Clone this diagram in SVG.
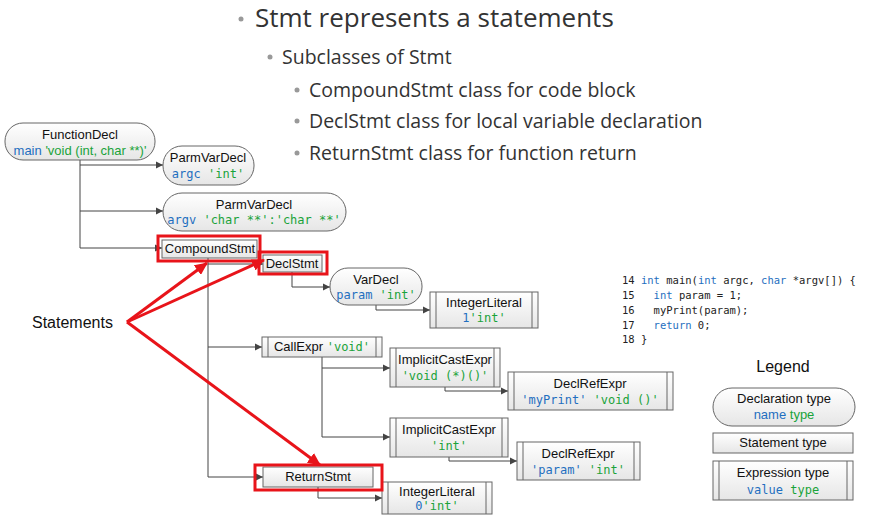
<svg xmlns="http://www.w3.org/2000/svg" width="875" height="524" viewBox="0 0 875 524">
<style>
text{font-family:"Liberation Sans",Arial,sans-serif;fill:#111}
.t{font-size:13px;text-anchor:middle}
.m{font-family:"DejaVu Sans Mono","Liberation Mono",monospace;font-size:12px}
.b{fill:#1f6fc0}.g{fill:#1aa33a}
.n{fill:url(#gr);stroke:#666;stroke-width:1}
.bar{stroke:#666;stroke-width:1}
.c{fill:none;stroke:#444;stroke-width:1;marker-end:url(#a)}
.r{fill:none;stroke:#e8141a;stroke-width:3}
.h{font-family:"Open Sans","Liberation Sans",sans-serif;font-size:19.5px;fill:#333}
.dot{fill:#999}
.code{font-family:"DejaVu Sans Mono","Liberation Mono",monospace;font-size:10.5px;fill:#222;white-space:pre}
</style>
<defs>
<linearGradient id="gr" x1="0" y1="0" x2="0" y2="1"><stop offset="0" stop-color="#fff"/><stop offset="1" stop-color="#e6e6e6"/></linearGradient>
<marker id="a" markerWidth="8" markerHeight="8" refX="7" refY="4" orient="auto" markerUnits="userSpaceOnUse"><path d="M0,0.5 L7,4 L0,7.5z" fill="#444"/></marker>
<marker id="ra" markerWidth="14" markerHeight="12" refX="12" refY="6" orient="auto" markerUnits="userSpaceOnUse"><path d="M0,0 L13,6 L0,12z" fill="#e8141a"/></marker>
</defs>
<g id="title">
<circle class="dot" cx="241" cy="19" r="2.5"/><text x="255" y="27" class="h" style="font-size:26px">Stmt represents a statements</text>
<circle class="dot" cx="270" cy="57" r="2.5"/><text x="282" y="64" class="h">Subclasses of Stmt</text>
<circle class="dot" cx="297" cy="90" r="2.5"/><text x="309" y="97" class="h">CompoundStmt class for code block</text>
<circle class="dot" cx="297" cy="121" r="2.5"/><text x="309" y="128" class="h">DeclStmt class for local variable declaration</text>
<circle class="dot" cx="297" cy="153" r="2.5"/><text x="309" y="160" class="h">ReturnStmt class for function return</text>
</g>
<g id="connectors">
<path class="c" d="M80,160 V248 H162"/>
<path class="c" d="M80,165 H163"/>
<path class="c" d="M80,211 H163"/>
<path class="c" d="M208,258 V477 H263"/>
<path class="c" d="M208,264 H263"/>
<path class="c" d="M208,347 H262"/>
<path class="c" d="M292,272 V287 H330"/>
<path class="c" d="M376,305 V310 H430"/>
<path class="c" d="M322,357 V437 H390"/>
<path class="c" d="M322,368 H390"/>
<path class="c" d="M445,387 V391 H508"/>
<path class="c" d="M449,457 V461 H517"/>
<path class="c" d="M318,487 V498 H382"/>
</g>
<g id="FunctionDecl"><rect class="n" x="5" y="123" width="150" height="37" rx="18"/><text class="t" x="80" y="139">FunctionDecl</text><text class="t" x="80" y="155"><tspan class="b">main</tspan> <tspan class="g">'void (int, char **)'</tspan></text></g>
<g id="ParmVarDecl1"><rect class="n" x="163" y="146" width="91" height="39" rx="19"/><text class="t" x="208" y="162">ParmVarDecl</text><text class="t m" x="208" y="178"><tspan class="b">argc</tspan> <tspan class="g">'int'</tspan></text></g>
<g id="ParmVarDecl2"><rect class="n" x="163" y="193" width="183" height="38" rx="19"/><text class="t" x="254" y="209">ParmVarDecl</text><text class="t m" x="254" y="224"><tspan class="b">argv</tspan> <tspan class="g">'char **':'char **'</tspan></text></g>
<g id="CompoundStmt"><rect class="n" x="162" y="240" width="95" height="18"/><text class="t" x="210" y="253">CompoundStmt</text></g>
<g id="DeclStmt"><rect class="n" x="263" y="255" width="59" height="17"/><text class="t" x="292" y="268">DeclStmt</text></g>
<g id="VarDecl"><rect class="n" x="330" y="268" width="92" height="37" rx="18"/><text class="t" x="376" y="284">VarDecl</text><text class="t m" x="376" y="299"><tspan class="b">param</tspan> <tspan class="g">'int'</tspan></text></g>
<g id="IntegerLiteral1"><rect class="n" x="430" y="292" width="108" height="36"/><path class="bar" d="M436,292V328M532,292V328"/><text class="t" x="484" y="307">IntegerLiteral</text><text class="t m" x="484" y="322"><tspan class="b">1</tspan><tspan class="g">'int'</tspan></text></g>
<g id="CallExpr"><rect class="n" x="262" y="337" width="120" height="20"/><path class="bar" d="M268,337V357M376,337V357"/><text class="t" x="322" y="351">CallExpr <tspan class="g m">'void'</tspan></text></g>
<g id="ImplicitCastExpr1"><rect class="n" x="390" y="348" width="110" height="39"/><path class="bar" d="M396,348V387M494,348V387"/><text class="t" x="445" y="364">ImplicitCastExpr</text><text class="t m g" x="445" y="380">'void (*)()'</text></g>
<g id="DeclRefExpr1"><rect class="n" x="508" y="372" width="165" height="38"/><path class="bar" d="M514,372V410M667,372V410"/><text class="t" x="590" y="388">DeclRefExpr</text><text class="t m" x="590" y="404"><tspan class="b">'myPrint'</tspan> <tspan class="g">'void ()'</tspan></text></g>
<g id="ImplicitCastExpr2"><rect class="n" x="390" y="418" width="118" height="39"/><path class="bar" d="M396,418V457M502,418V457"/><text class="t" x="449" y="434">ImplicitCastExpr</text><text class="t m g" x="449" y="450">'int'</text></g>
<g id="DeclRefExpr2"><rect class="n" x="517" y="442" width="123" height="38"/><path class="bar" d="M523,442V480M634,442V480"/><text class="t" x="578" y="458">DeclRefExpr</text><text class="t m" x="578" y="474"><tspan class="b">'param'</tspan> <tspan class="g">'int'</tspan></text></g>
<g id="ReturnStmt"><rect class="n" x="263" y="467" width="110" height="20"/><text class="t" x="318" y="481">ReturnStmt</text></g>
<g id="IntegerLiteral2"><rect class="n" x="382" y="482" width="110" height="32"/><path class="bar" d="M388,482V514M486,482V514"/><text class="t" x="437" y="496">IntegerLiteral</text><text class="t m" x="437" y="510"><tspan class="b">0</tspan><tspan class="g">'int'</tspan></text></g>
<g id="highlights">
<rect class="r" x="158" y="236" width="102" height="25"/>
<rect class="r" x="259" y="252" width="68" height="22"/>
<rect class="r" x="255" y="465" width="127" height="25"/>
<text x="32" y="328" style="font-size:16px">Statements</text>
<line x1="127" y1="322" x2="207" y2="263" class="r" marker-end="url(#ra)"/>
<line x1="127" y1="322" x2="264" y2="260" class="r" marker-end="url(#ra)"/>
<line x1="127" y1="322" x2="320" y2="465" class="r" marker-end="url(#ra)"/>
</g>
<g id="code">
<text class="code" x="622" y="284">14 <tspan class="b">int</tspan> main(<tspan class="b">int</tspan> argc, <tspan class="b">char</tspan> *argv[]) {</text>
<text class="code" x="622" y="299" xml:space="preserve">15   <tspan class="b">int</tspan> param = 1;</text>
<text class="code" x="622" y="314" xml:space="preserve">16   myPrint(param);</text>
<text class="code" x="622" y="329" xml:space="preserve">17   <tspan class="b">return</tspan> 0;</text>
<text class="code" x="622" y="343">18 }</text>
</g>
<g id="legend">
<text x="783" y="372" style="font-size:16px;text-anchor:middle">Legend</text>
<rect class="n" x="713" y="388" width="142" height="38" rx="19"/><text class="t" x="784" y="403">Declaration type</text><text class="t" x="784" y="419"><tspan class="b">name</tspan> <tspan class="g">type</tspan></text>
<rect class="n" x="713" y="433" width="140" height="20"/><text class="t" x="783" y="447">Statement type</text>
<rect class="n" x="713" y="461" width="140" height="39"/><path class="bar" d="M719,461V500M847,461V500"/><text class="t" x="783" y="477">Expression type</text><text class="t m" x="783" y="494"><tspan class="b">value</tspan> <tspan class="g">type</tspan></text>
</g>
</svg>
